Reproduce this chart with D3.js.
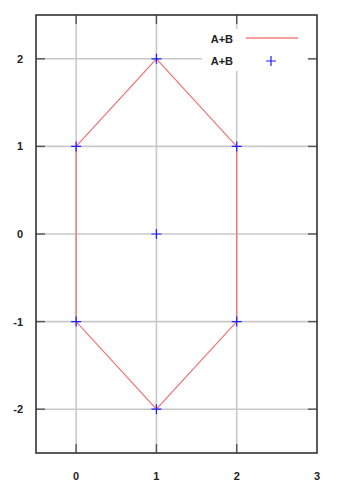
<!DOCTYPE html>
<html><head><meta charset="utf-8">
<script src="https://cdn.jsdelivr.net/npm/d3@7"></script>
<style>body{margin:0;background:#fff}svg{display:block}</style>
</head><body>
<svg id="c" width="346" height="492"></svg>
<script>
const xTicks = [0, 1, 2, 3];
const yTicks = [-2, -1, 0, 1, 2];
const lineX = [0, 1, 2, 2, 1, 0, 0];
const lineY = [1, 2, 1, -1, -2, -1, 1];
const pointX = [0, 1, 2, 2, 1, 0, 1];
const pointY = [1, 2, 1, -1, -2, -1, 0];
const legendLabels = ["A+B", "A+B"];

const svg = d3.select("#c");
const L = 36, R = 317, T = 15, B = 453;
const x = d3.scaleLinear().domain([-0.5, 3]).range([L, R]);
const y = d3.scaleLinear().domain([-2.5, 2.5]).range([B, T]);
const font = "Liberation Sans, Arial, sans-serif";

// grid
const g = svg.append("g");
xTicks.filter(v => v < 3).forEach(v => {
  g.append("line").attr("x1", x(v)).attr("x2", x(v)).attr("y1", T).attr("y2", B)
    .attr("stroke", "#c8c8c8").attr("stroke-width", 1.6);
});
yTicks.forEach(v => {
  g.append("line").attr("x1", L).attr("x2", R).attr("y1", y(v)).attr("y2", y(v))
    .attr("stroke", "#c8c8c8").attr("stroke-width", 1.6);
});

// tick marks (inside, mirrored)
const tl = 9;
xTicks.forEach(v => {
  if (v >= 3) return;
  svg.append("line").attr("x1", x(v)).attr("x2", x(v)).attr("y1", B).attr("y2", B - tl).attr("stroke", "#555").attr("stroke-width", 1.4);
  svg.append("line").attr("x1", x(v)).attr("x2", x(v)).attr("y1", T).attr("y2", T + tl).attr("stroke", "#555").attr("stroke-width", 1.4);
});
yTicks.forEach(v => {
  svg.append("line").attr("x1", L).attr("x2", L + tl).attr("y1", y(v)).attr("y2", y(v)).attr("stroke", "#555").attr("stroke-width", 1.4);
  svg.append("line").attr("x1", R).attr("x2", R - tl).attr("y1", y(v)).attr("y2", y(v)).attr("stroke", "#555").attr("stroke-width", 1.4);
});

// tick labels
xTicks.forEach(v => {
  svg.append("text").attr("x", x(v)).attr("y", 480).attr("text-anchor", "middle")
    .attr("font-family", font).attr("font-size", 11).attr("font-weight", "bold").attr("fill", "#222").text(v);
});
yTicks.forEach(v => {
  svg.append("text").attr("x", 23).attr("y", y(v) + 4).attr("text-anchor", "end")
    .attr("font-family", font).attr("font-size", 11).attr("font-weight", "bold").attr("fill", "#222").text(v);
});

// legend background
svg.append("rect").attr("x", 202).attr("y", 29).attr("width", 106).attr("height", 42).attr("fill", "#fff");

// line
const pts = lineX.map((v, i) => [v, lineY[i]]);
svg.append("path").attr("d", d3.line().x(d => x(d[0])).y(d => y(d[1]))(pts))
  .attr("fill", "none").attr("stroke", "#f07070").attr("stroke-width", 1.2);

// points
const ps = 5;
pointX.forEach((v, i) => {
  const cx = x(v), cy = y(pointY[i]);
  svg.append("path").attr("d", `M${cx - ps},${cy}H${cx + ps}M${cx},${cy - ps}V${cy + ps}`)
    .attr("stroke", "#2020ff").attr("stroke-width", 1.2);
});

// legend
svg.append("text").attr("x", 233).attr("y", 43).attr("text-anchor", "end")
  .attr("font-family", font).attr("font-size", 11).attr("font-weight", "bold").attr("fill", "#222").text(legendLabels[0]);
svg.append("line").attr("x1", 246).attr("x2", 298).attr("y1", 38).attr("y2", 38)
  .attr("stroke", "#f4a0a0").attr("stroke-width", 1.8);
svg.append("text").attr("x", 233).attr("y", 65).attr("text-anchor", "end")
  .attr("font-family", font).attr("font-size", 11).attr("font-weight", "bold").attr("fill", "#222").text(legendLabels[1]);
svg.append("path").attr("d", `M${271 - ps},61H${271 + ps}M271,${61 - ps}V${61 + ps}`)
  .attr("stroke", "#2020ff").attr("stroke-width", 1.2);

// border
svg.append("rect").attr("x", L).attr("y", T).attr("width", R - L).attr("height", B - T)
  .attr("fill", "none").attr("stroke", "#333").attr("stroke-width", 1.6);
</script>
</body></html>
